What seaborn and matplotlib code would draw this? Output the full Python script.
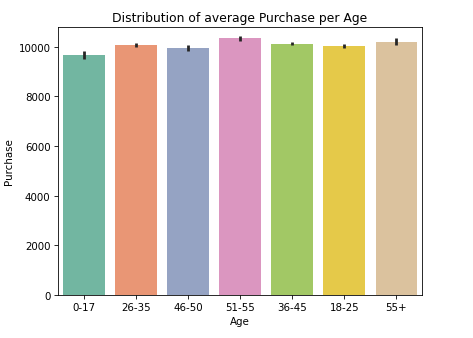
import matplotlib
matplotlib.use("Agg")
import matplotlib.pyplot as plt
import seaborn as sns
import pandas as pd
import numpy as np

ages = ["0-17", "26-35", "46-50", "51-55", "36-45", "18-25", "55+"]
avg_purchase = [9680, 10080, 9950, 10330, 10120, 10040, 10190]
ci_half = [160, 80, 110, 100, 70, 80, 140]

df = pd.DataFrame({"Age": ages, "Purchase": avg_purchase})

fig = plt.figure(figsize=(6.4, 4.58), dpi=74)
ax = fig.add_axes([0.122, 0.127, 0.770, 0.790])
sns.barplot(data=df, x="Age", y="Purchase", hue="Age", palette="Set2",
            order=ages, errorbar=None, legend=False, ax=ax)
ax.errorbar(x=np.arange(len(ages)), y=avg_purchase, yerr=ci_half,
            fmt="none", ecolor="#262626", elinewidth=2.7, capsize=0)
ax.set_xlim(-0.5, len(ages) - 0.5)
ax.set_ylim(0, 10780)
ax.set_title("Distribution of average Purchase per Age")
fig.savefig("out.png", dpi=74)
